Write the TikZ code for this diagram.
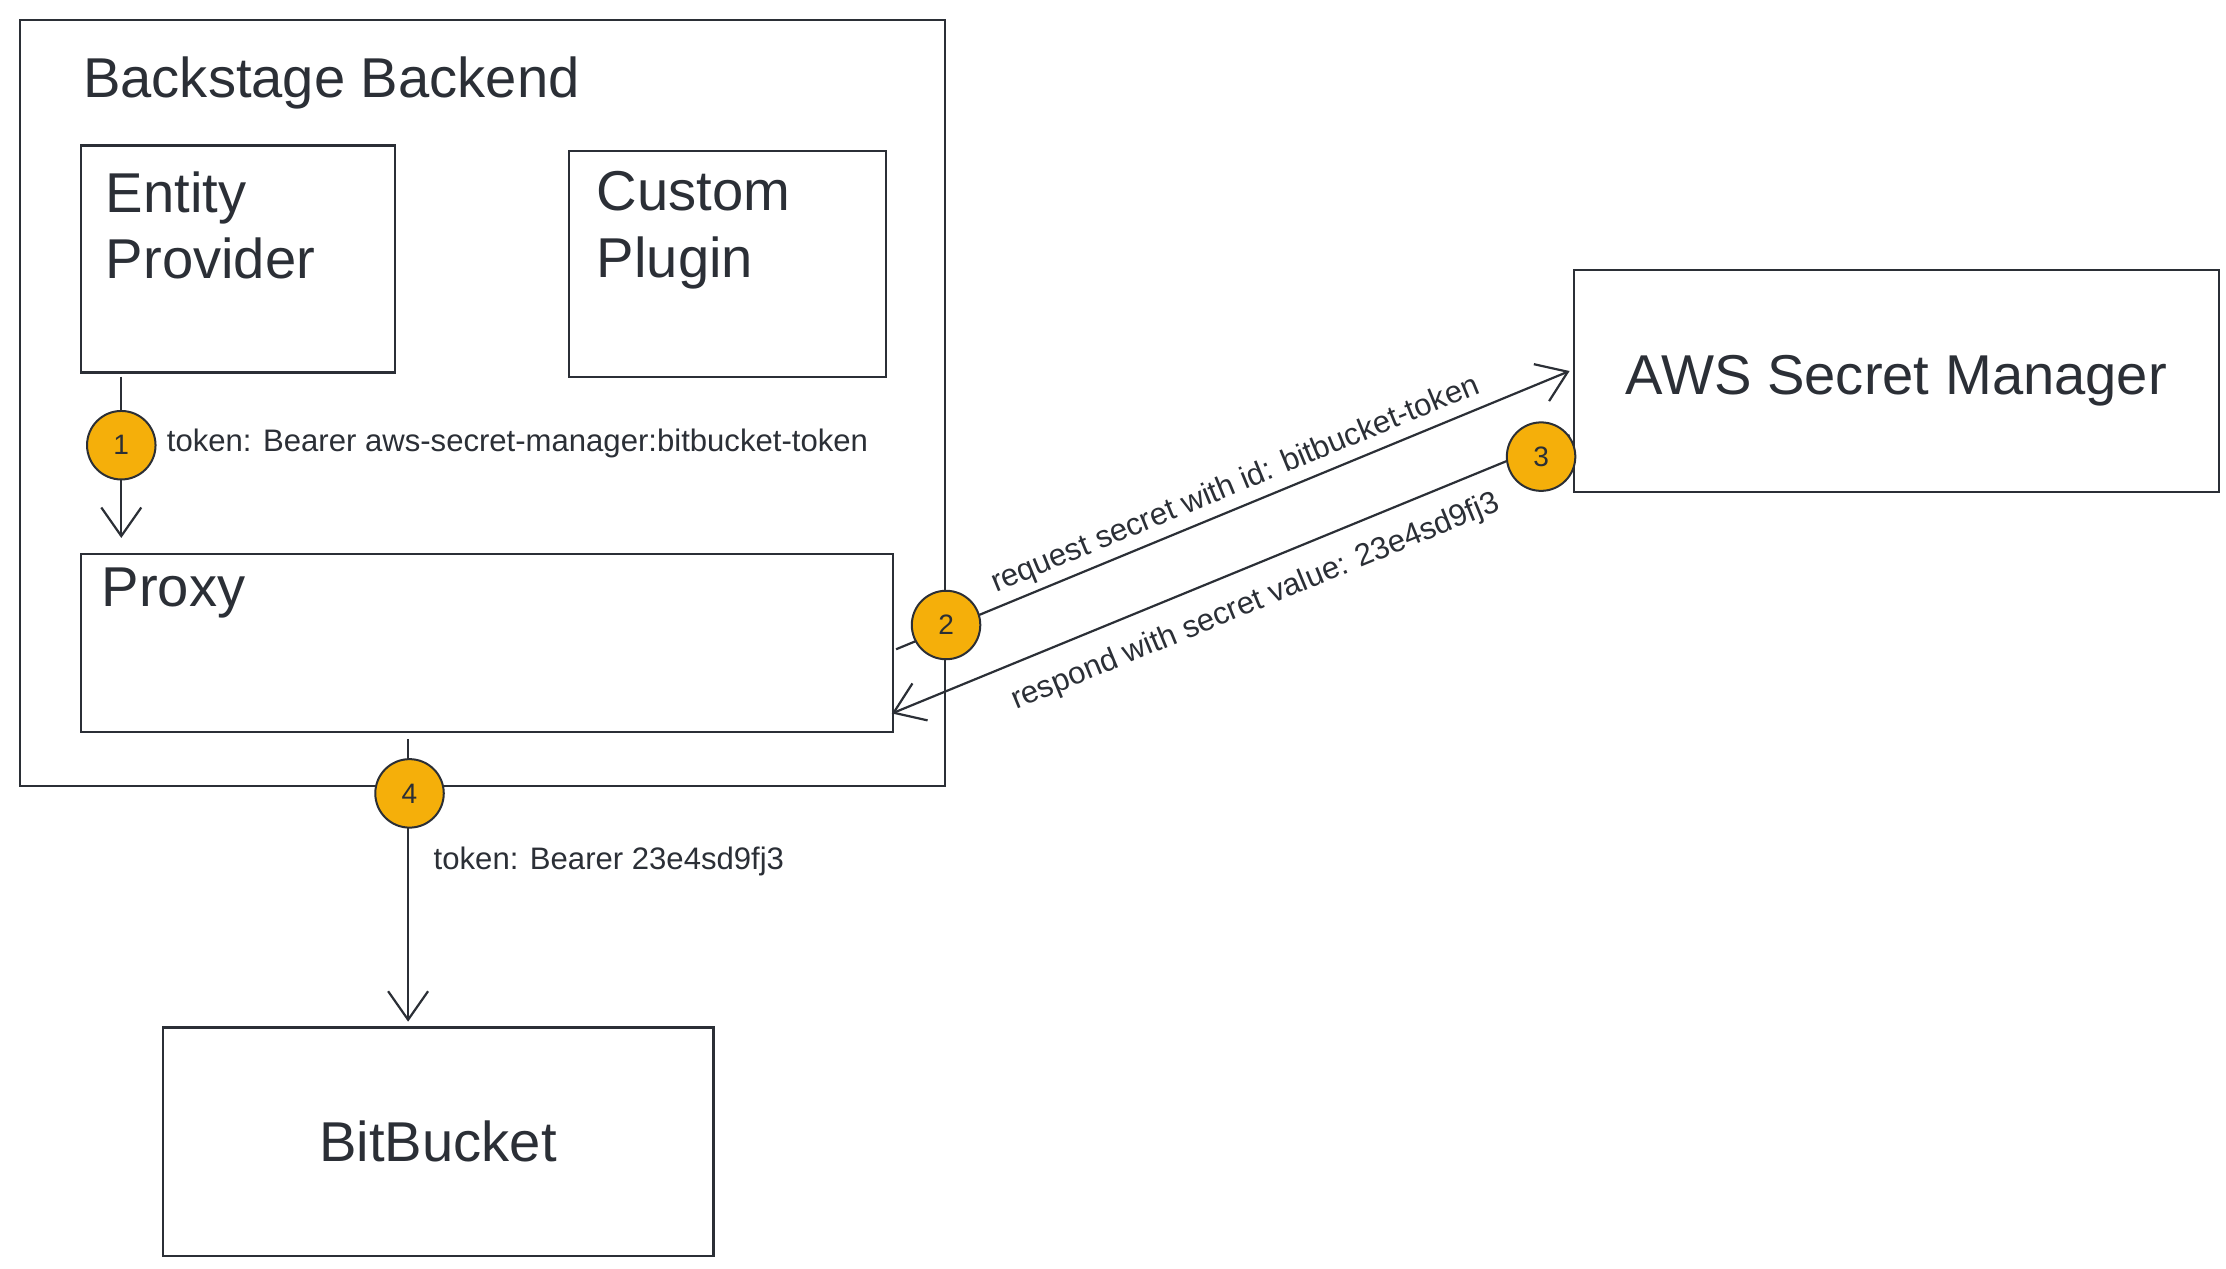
\documentclass[tikz,border=0pt]{standalone}
\usepackage{fontspec}
\setmainfont{Liberation Sans}
\usetikzlibrary{arrows.meta}
\definecolor{badgec}{HTML}{F5AF0A}
\definecolor{ink}{HTML}{2B2F36}
\begin{document}
\begin{tikzpicture}[x=0.25mm,y=-0.25mm,
  box/.style={draw=ink,line width=1.1pt},
  big/.style={font=\fontsize{28}{33}\selectfont,text=ink},
  lbl/.style={font=\fontsize{15.5}{18}\selectfont,text=ink},
  badge/.style={circle,draw=ink,fill=badgec,line width=1pt,minimum size=12mm,inner sep=0pt,font=\fontsize{14}{16}\selectfont,text=ink},
  arr/.style={draw=ink,line width=1.1pt,-{Straight Barb[length=5mm,width=7mm]}}]
\useasboundingbox (0,0) rectangle (1560,889);
\draw[box] (14,14) rectangle (662,551);
\node[big,anchor=base west,inner sep=0pt] at (58,68) {Backstage Backend};
\draw[box] (57,102) rectangle (277,261); \coordinate (ep) at (167,181);
\node[big,anchor=north west,align=left,inner sep=0pt] at (74,120) {Entity\\Provider};
\draw[box] (399,106) rectangle (621,264);
\node[big,anchor=north west,align=left,inner sep=0pt] at (418,120) {Custom\\Plugin};
\draw[box] (57,388) rectangle (626,513);
\node[big,anchor=north west,inner sep=0pt] at (71,398) {Proxy};
\draw[box] (1103,189) rectangle (1555,345);
\node[big] (aws) at (1329,267) {AWS Secret Manager};
\draw[box] (114,720) rectangle (500,880);
\node[big] (bb) at (307,800) {BitBucket};
\coordinate (a1s) at (85,264); \coordinate (a1e) at (85,377);
\draw[arr] (a1s) -- (a1e);
\coordinate (a2s) at (628,455); \coordinate (a2e) at (1100,260);
\draw[arr] (a2s) -- (a2e);
\coordinate (a3s) at (1100,305); \coordinate (a3e) at (625,500);
\draw[arr] (a3s) -- (a3e);
\coordinate (a4s) at (286,518); \coordinate (a4e) at (286,716);
\draw[arr] (a4s) -- (a4e);
\node[badge] (b1) at (85,312) {1};
\node[badge] (b2) at (663,438) {2};
\node[badge] (b3) at (1080,320) {3};
\node[badge] (b4) at (287,556) {4};
\node[lbl,anchor=west] at (112,311) {token: Bearer aws-secret-manager:bitbucket-token};
\node[lbl,rotate=22.4] at (866,340) {request secret with id: bitbucket-token};
\node[lbl,rotate=22.4] at (880,422) {respond with secret value: 23e4sd9fj3};
\node[lbl,anchor=west] at (299,604) {token: Bearer 23e4sd9fj3};
\end{tikzpicture}
\end{document}
